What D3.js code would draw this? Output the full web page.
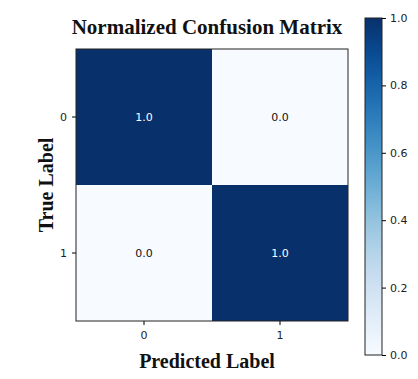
<!DOCTYPE html>
<html>
<head>
<meta charset="utf-8">
<script src="https://cdn.jsdelivr.net/npm/d3@7"></script>
<style>
body { margin: 0; background: #fff; }
svg { display: block; }
.tick text { font-family: "DejaVu Sans", sans-serif; font-size: 11px; fill: #222; }
.ttl { font-family: "Liberation Serif", "DejaVu Serif", serif; font-weight: bold; fill: #111; }
</style>
</head>
<body>
<svg id="chart"></svg>
<script>
var classes = ["0", "1"],
predicted = ["0", "1"],
values = [[1.0, 0.0], [0.0, 1.0]],
cbarTicks = [0.0, 0.2, 0.4, 0.6, 0.8, 1.0];

var width = 418, height = 379;
var svg = d3.select("#chart").attr("width", width).attr("height", height);

// matrix area
var mLeft = 76, mTop = 49, size = 272;

var x = d3.scaleBand().domain(predicted).range([mLeft, mLeft + size]);
var y = d3.scaleBand().domain(classes).range([mTop, mTop + size]);
var color = d3.scaleSequential(d3.interpolateBlues).domain([0, 1]);

var cells = [];
values.forEach(function (row, i) {
  row.forEach(function (v, j) {
    cells.push({row: classes[i], col: predicted[j], value: v});
  });
});

svg.selectAll("rect.cell")
.data(cells)
.enter().append("rect")
.attr("class", "cell")
.attr("x", function (d) { return x(d.col); })
.attr("y", function (d) { return y(d.row); })
.attr("width", x.bandwidth())
.attr("height", y.bandwidth())
.style("fill", function (d) { return color(d.value); });

svg.selectAll("text.val")
.data(cells)
.enter().append("text")
.attr("class", "val")
.attr("x", function (d) { return x(d.col) + x.bandwidth() / 2; })
.attr("y", function (d) { return y(d.row) + y.bandwidth() / 2; })
.attr("text-anchor", "middle")
.attr("dy", "0.35em")
.style("font-family", "DejaVu Sans, sans-serif")
.style("font-size", "11px")
.style("fill", function (d) { return d.value > 0.5 ? "#fff" : "#111"; })
.text(function (d) { return d.value.toFixed(1); });

svg.append("rect")
.attr("x", mLeft).attr("y", mTop)
.attr("width", size).attr("height", size)
.style("fill", "none").style("stroke", "#222").style("stroke-width", 1);

var xAxis = svg.append("g")
.attr("transform", "translate(0," + (mTop + size) + ")")
.call(d3.axisBottom(x).tickSize(4).tickPadding(6));
xAxis.select(".domain").remove();

var yAxis = svg.append("g")
.attr("transform", "translate(" + mLeft + ",0)")
.call(d3.axisLeft(y).tickSize(4).tickPadding(5));
yAxis.select(".domain").remove();

// titles
svg.append("text")
.attr("class", "ttl")
.attr("x", 207).attr("y", 34)
.attr("text-anchor", "middle")
.style("font-size", "21px")
.text("Normalized Confusion Matrix");

svg.append("text")
.attr("class", "ttl")
.attr("x", 207).attr("y", 368)
.attr("text-anchor", "middle")
.style("font-size", "20px")
.text("Predicted Label");

svg.append("text")
.attr("class", "ttl")
.attr("transform", "translate(53," + (mTop + size / 2) + ")rotate(-90)")
.attr("text-anchor", "middle")
.style("font-size", "20px")
.text("True Label");

// colorbar
var cbX = 365, cbW = 17, cbTop = 18, cbBot = 355;
var cy = d3.scaleLinear().domain([0, 1]).range([cbBot, cbTop]);

var grad = svg.append("defs").append("linearGradient")
.attr("id", "cbgrad")
.attr("x1", "0").attr("y1", "1").attr("x2", "0").attr("y2", "0");
grad.selectAll("stop")
.data(d3.range(0, 1.0001, 0.05))
.enter().append("stop")
.attr("offset", function (d) { return d; })
.attr("stop-color", function (d) { return color(d); });

svg.append("rect")
.attr("x", cbX).attr("y", cbTop)
.attr("width", cbW).attr("height", cbBot - cbTop)
.style("fill", "url(#cbgrad)")
.style("stroke", "#222").style("stroke-width", 1);

var cAxis = svg.append("g")
.attr("transform", "translate(" + (cbX + cbW) + ",0)")
.call(d3.axisRight(cy).tickValues(cbarTicks).tickFormat(d3.format(".1f")).tickSize(4).tickPadding(4));
cAxis.select(".domain").remove();
</script>
</body>
</html>
